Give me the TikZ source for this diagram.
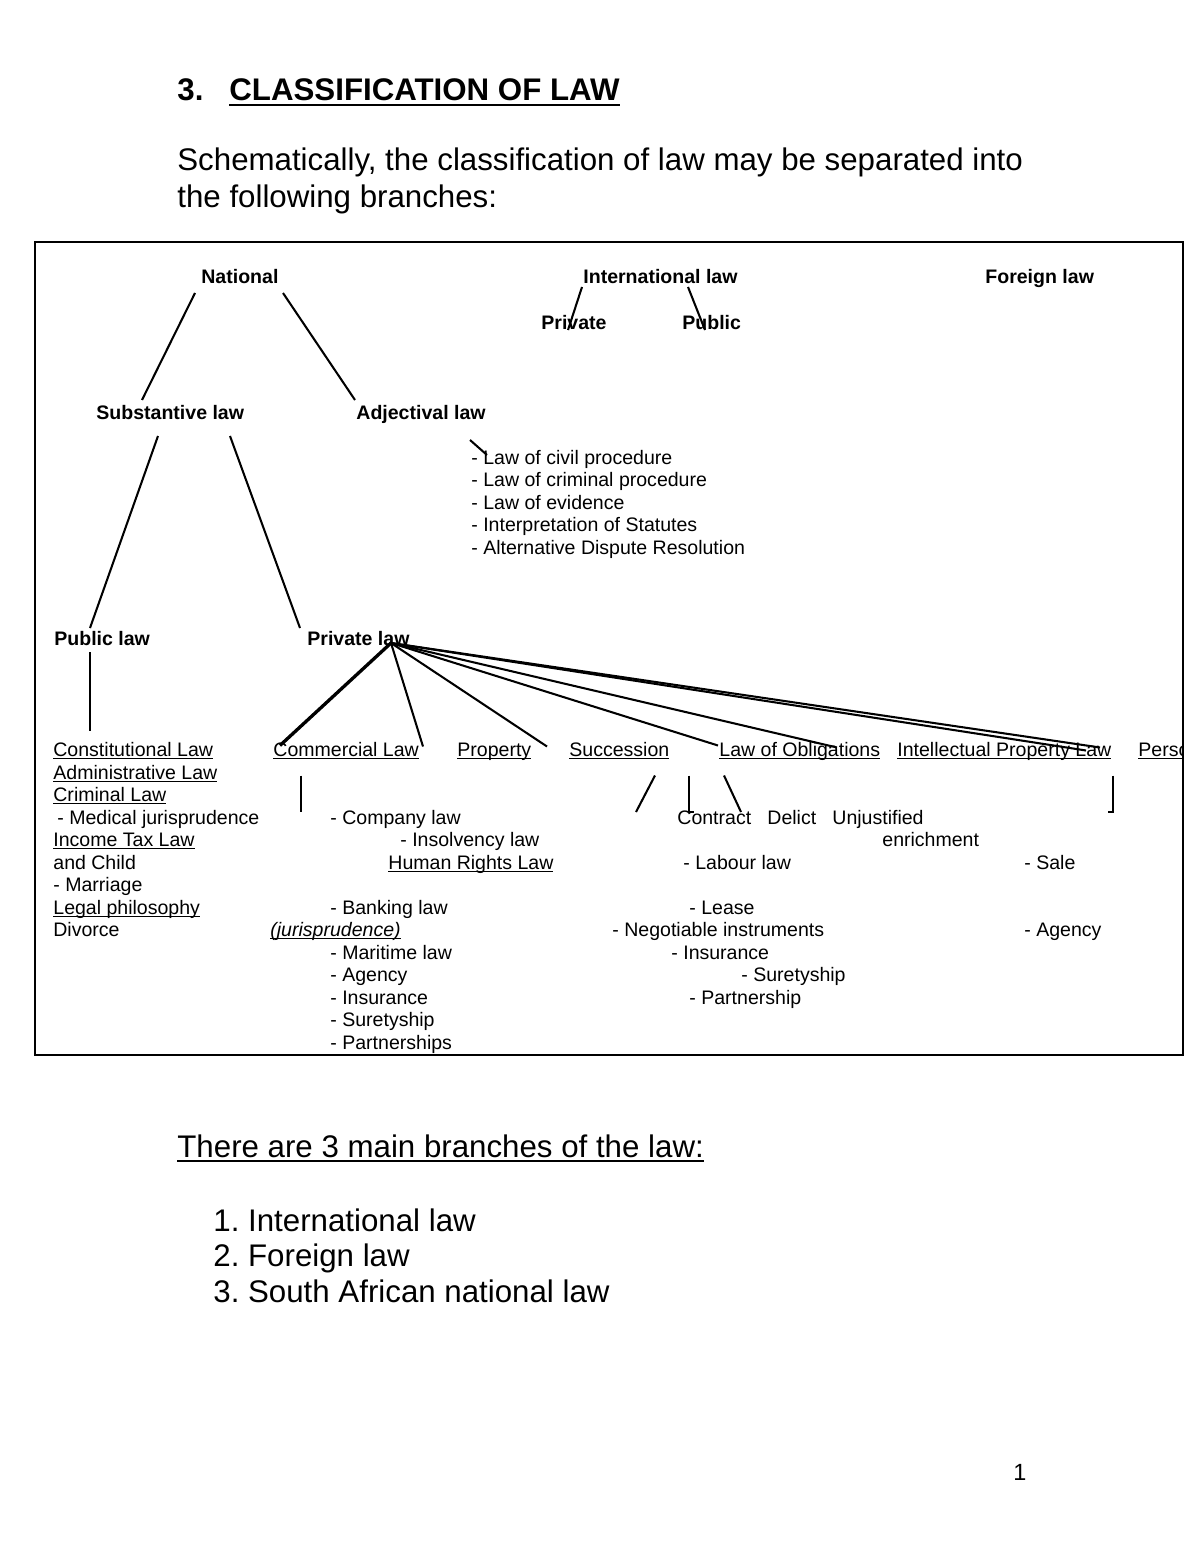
\documentclass[tikz,border=0pt]{standalone}
\usepackage{fontspec}
\setmainfont{Liberation Sans}
\usetikzlibrary{calc}
\frenchspacing

% underline with a fixed depth, as a word processor draws it
\newlength\ulwd
\newcommand\ulin[1]{\settowidth\ulwd{#1}\rlap{\rule[-0.15em]{\ulwd}{0.06em}}#1}

\begin{document}
\begin{tikzpicture}[x=0.0179917cm, y=-0.0179917cm,
	txt/.style={anchor=base west, inner sep=0pt, font=\fontsize{10}{12}\selectfont},
	hd/.style={txt, font=\fontsize{10}{12}\selectfont\bfseries},
	big/.style={anchor=base west, inner sep=0pt, font=\fontsize{16}{19}\selectfont},
	bigbf/.style={big, font=\fontsize{16}{19}\selectfont\bfseries},
	ln/.style={line width=1.05pt}]
	\useasboundingbox (0,0) rectangle (1200,1553);

	% heading
	\node[bigbf] (num) at (177,101) {3.};
	\node[bigbf] (title) at (229,101) {\ulin{CLASSIFICATION OF LAW}};
	\node[big] (intro1) at (177,171) {Schematically, the classification of law may be separated into};
	\node[big] (intro2) at (177,208) {the following branches:};

	\begin{scope}
		\clip (35,242) rectangle (1183,1055);

		% top level
		\node[hd] (national) at (201,284) {National};
		\node[hd] (intl) at (583,284) {International law};
		\node[hd] (foreign) at (985,284) {Foreign law};
		\node[hd] (ipriv) at (541,329) {Private};
		\node[hd] (ipub) at (682,329) {Public};
		\node[hd] (subst) at (96,419) {Substantive law};
		\node[hd] (adject) at (356,419) {Adjectival law};
		\node[hd] (publaw) at (54,645) {Public law};
		\node[hd] (privlaw) at (307,645) {Private law};

		% adjectival law
		\foreach \t [count=\i from 0] in {Law of civil procedure, Law of criminal procedure, Law of evidence, Interpretation of Statutes, Alternative Dispute Resolution}
			\node[txt] (adj\i) at (471,{464+22.5*\i}) {- \t};

		% public law branch
		\foreach \n/\x/\r/\t in {const/53/0/\ulin{Constitutional Law}, admin/53/1/\ulin{Administrative Law}, crim/53/2/\ulin{Criminal Law}, med/57/3/- Medical jurisprudence, tax/53/4/\ulin{Income Tax Law}, child/53/5/and Child, marr/53/6/- Marriage, phil/53/7/\ulin{Legal philosophy}, div/53/8/Divorce}
			\node[txt] (\n) at (\x,{756.5+22.5*\r}) {\t};

		% private law branches
		\foreach \n/\x/\t in {comm/273/Commercial Law, prop/457/Property, succ/569/Succession, oblig/719/Law of Obligations, ipl/897/Intellectual Property Law, pers/1138/Persons}
			\node[txt] (\n) at (\x,756.5) {\ulin{\t}};

		\foreach \n/\x/\r/\t in {company/330/3/- Company law, insolv/400/4/- Insolvency law, hrl/388/5/\ulin{Human Rights Law}, bank/330/7/- Banking law, juris/270/8/\ulin{\itshape (jurisprudence)}, marit/330/9/- Maritime law, agency/330/10/- Agency, insur/330/11/- Insurance, surety/330/12/- Suretyship, partn/330/13/- Partnerships}
			\node[txt] (\n) at (\x,{756.5+22.5*\r}) {\t};

		\foreach \n/\x/\r/\t in {contract/677/3/Contract, delict/767/3/Delict, unjust/832/3/Unjustified, enrich/882/4/enrichment, labour/683/5/- Labour law, sale/1024/5/- Sale, lease/689/7/- Lease, negot/612/8/- Negotiable instruments, agencyb/1024/8/- Agency, insurb/671/9/- Insurance, suretyb/741/10/- Suretyship, partnb/689/11/- Partnership}
			\node[txt] (\n) at (\x,{756.5+22.5*\r}) {\t};

		% connectors
		\draw[ln] ($(national.base west)+(-6,9)$) -- ($(subst.base west)+(46,-19)$);
		\draw[ln] ($(national.base west)+(82,9)$) -- ($(adject.base west)+(-1,-19)$);
		\draw[ln] ($(intl.base west)+(-1,3)$) -- ($(ipriv.base west)+(27,1)$);
		\draw[ln] ($(intl.base west)+(105,3)$) -- ($(ipub.base west)+(23,1)$);
		\draw[ln] ($(adject.base west)+(114,21)$) -- ($(adj0.base west)+(16,-9)$);
		\draw[ln] ($(subst.base west)+(62,17)$) -- ($(publaw.base west)+(36,-17)$);
		\draw[ln] ($(subst.base west)+(134,17)$) -- ($(privlaw.base west)+(-7,-17)$);
		\draw[ln] ($(publaw.base west)+(36,7)$) -- ($(const.base west)+(37,-26)$);

		% fan out of private law
		\draw[line width=1.7pt] ($(privlaw.base west)+(84,-2)$) -- ($(comm.base west)+(7,-11)$);
		\foreach \n/\dx/\dy in {comm/150/-10, prop/90/-10, oblig/-1/-11, oblig/118/-9, ipl/189/-6, ipl/203/-9}
			\draw[ln] ($(privlaw.base west)+(84,-2)$) -- ($(\n.base west)+(\dx,\dy)$);

		\draw[ln] ($(comm.base west)+(28,19)$) -- ($(company.base west)+(-29,-12)$);
		\draw[ln] ($(succ.base west)+(86,19)$) -- ($(contract.base west)+(-41,-12)$);
		\draw[ln] ($(oblig.base west)+(-30,19)$) -- ($(contract.base west)+(12,-12)$) -- ++(5,0);
		\draw[ln] ($(oblig.base west)+(5,19)$) -- ($(contract.base west)+(64,-12)$);
		\draw[ln] ($(ipl.base west)+(216,19)$) -- ($(sale.base west)+(89,-57)$) -- ++(-5,0);
	\end{scope}
	\draw[line width=1pt] (35,242) rectangle (1183,1055);

	% main branches
	\node[big] (branches) at (177,1157) {\ulin{There are 3 main branches of the law:}};
	\foreach \t [count=\i] in {International law, Foreign law, South African national law}
		\node[big] (item\i) at (213,{1195.5+35.5*\i}) {\i. \t};

	\node[anchor=base west, inner sep=0pt, font=\fontsize{12}{14}\selectfont] (pageno) at (1013,1480) {1};
\end{tikzpicture}
\end{document}
